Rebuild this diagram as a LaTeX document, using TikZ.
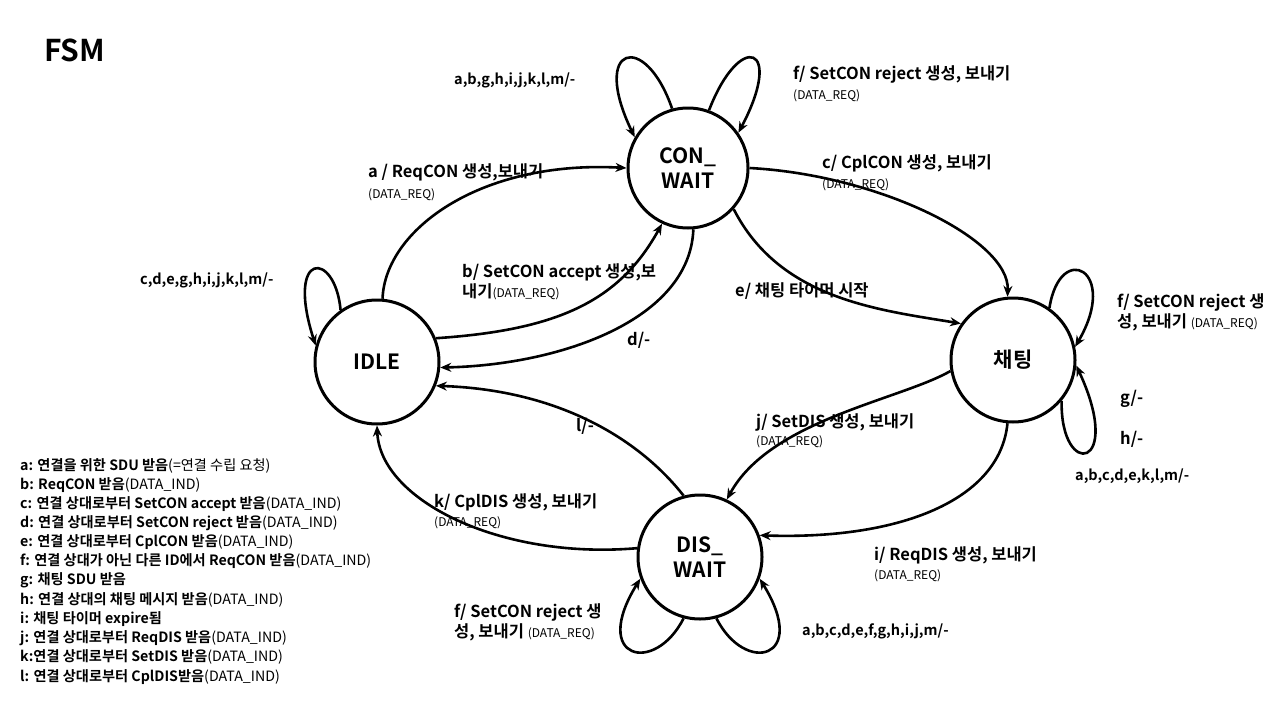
\documentclass[tikz,border=0pt]{standalone}
\usepackage{fontspec}
\setmainfont{Noto Sans CJK KR}[BoldFont={* Bold}]
\usetikzlibrary{arrows.meta}
\begin{document}
\begin{tikzpicture}[x=1pt,y=-1pt,
  st/.style={draw,line width=3pt,circle,minimum size=124pt,inner sep=0pt,font=\bfseries\fontsize{21}{25}\selectfont,align=center},
  ed/.style={line width=2.6pt,-{Stealth[length=11pt,width=9pt]}},
  lb/.style={font=\bfseries\fontsize{16.5}{20}\selectfont,align=left,inner sep=0pt},
  sm/.style={font=\fontsize{12}{14}\selectfont,inner sep=0pt},
  lp/.style={font=\bfseries\fontsize{14.5}{16}\selectfont,anchor=west,inner sep=0pt},
  lg/.style={font=\bfseries\fontsize{14.2}{16}\selectfont,anchor=west,inner sep=0pt}]
\useasboundingbox (0,0) rectangle (1280,720);
\node[font=\bfseries\fontsize{30}{34}\selectfont,anchor=west,inner sep=0pt] (t) at (44,50) {FSM};
\node[st] (idle) at (377,362) {IDLE};
\node[st,minimum size=120pt] (cw) at (688,168) {CON\_\\WAIT};
\node[st] (ch) at (1013,360) {채팅};
\node[st] (dw) at (700,557) {DIS\_\\WAIT};
% transitions
\draw[ed] (idle.85) .. controls (385,230) and (480,160) .. (cw.west);
\draw[ed] (idle.22) .. controls (560,330) and (620,300) .. (cw.245);
\draw[ed] (cw.275) .. controls (690,320) and (560,365) .. (idle.-5);
\draw[ed] (cw.east) .. controls (880,175) and (1010,240) .. (ch.95);
\draw[ed] (cw.318) .. controls (780,300) and (880,310) .. (ch.145);
\draw[ed] (ch.190) .. controls (900,400) and (770,420) .. (dw.65);
\draw[ed] (ch.265) .. controls (1000,500) and (900,540) .. (dw.20);
\draw[ed] (dw.105) .. controls (640,440) and (560,390) .. (idle.-22);
\draw[ed] (dw.172) .. controls (500,560) and (380,500) .. (idle.270);
% self loops
\draw[ed] (idle.125) .. controls (335,250) and (285,250) .. (idle.165);
\draw[ed] (cw.105) .. controls (645,30) and (590,45) .. (cw.150);
\draw[ed] (cw.70) .. controls (740,30) and (785,45) .. (cw.35);
\draw[ed] (ch.55) .. controls (1060,240) and (1120,270) .. (ch.12);
\draw[ed] (ch.-40) .. controls (1060,480) and (1125,470) .. (ch.-5);
\draw[ed] (dw.255) .. controls (655,675) and (590,660) .. (dw.200);
\draw[ed] (dw.-75) .. controls (745,675) and (810,660) .. (dw.-20);
% labels
\node[lb,anchor=west] (la) at (368,172) {a / ReqCON 생성,보내기};
\node[sm,anchor=west] (las) at (368,195) {(DATA\_REQ)};
\node[lb,anchor=west] (lb1) at (462,282) {b/ SetCON accept 생성,보\\내기{\mdseries\fontsize{12}{14}\selectfont(DATA\_REQ)}};
\node[lb,anchor=west] (ld) at (627,340) {d/-};
\node[lb,anchor=west] (lc) at (822,163) {c/ CplCON 생성, 보내기};
\node[sm,anchor=west] (lcs) at (822,185) {(DATA\_REQ)};
\node[lb,anchor=west] (le) at (735,291) {e/ 채팅 타이머 시작};
\node[lb,anchor=west] (lj) at (756,422) {j/ SetDIS 생성, 보내기};
\node[sm,anchor=west] (ljs) at (756,442) {(DATA\_REQ)};
\node[lb,anchor=west] (li) at (874,555) {i/ ReqDIS 생성, 보내기};
\node[sm,anchor=west] (lis) at (874,576) {(DATA\_REQ)};
\node[lb,anchor=west] (ll) at (576,426) {l/-};
\node[lb,anchor=west] (lk) at (434,502) {k/ CplDIS 생성, 보내기};
\node[sm,anchor=west] (lks) at (434,523) {(DATA\_REQ)};
\node[lp] (l1) at (454,80) {a,b,g,h,i,j,k,l,m/-};
\node[lb,anchor=west] (lf1) at (793,74) {f/ SetCON reject 생성, 보내기};
\node[sm,anchor=west] (lf1s) at (793,96) {(DATA\_REQ)};
\node[lp] (l2) at (140,280) {c,d,e,g,h,i,j,k,l,m/-};
\node[lb,anchor=west] (lf2) at (1117,312) {f/ SetCON reject 생\\성, 보내기 {\mdseries\fontsize{12}{14}\selectfont(DATA\_REQ)}};
\node[lb,anchor=west] (lg) at (1120,399) {g/-};
\node[lb,anchor=west] (lh) at (1120,439) {h/-};
\node[lp] (l3) at (1075,476) {a,b,c,d,e,k,l,m/-};
\node[lb,anchor=west] (lf3) at (454,622) {f/ SetCON reject 생\\성, 보내기 {\mdseries\fontsize{12}{14}\selectfont(DATA\_REQ)}};
\node[lp] (l4) at (802,631) {a,b,c,d,e,f,g,h,i,j,m/-};
% legend
\node[lg] (g1) at (20,466) {a: 연결을 위한 SDU 받음{\mdseries(=연결 수립 요청)}};
\node[lg] (g2) at (20,485) {b: ReqCON 받음{\mdseries(DATA\_IND)}};
\node[lg] (g3) at (20,504) {c: 연결 상대로부터 SetCON accept 받음{\mdseries(DATA\_IND)}};
\node[lg] (g4) at (20,523) {d: 연결 상대로부터 SetCON reject 받음{\mdseries(DATA\_IND)}};
\node[lg] (g5) at (20,542) {e: 연결 상대로부터 CplCON 받음{\mdseries(DATA\_IND)}};
\node[lg] (g6) at (20,561) {f: 연결 상대가 아닌 다른 ID에서 ReqCON 받음{\mdseries(DATA\_IND)}};
\node[lg] (g7) at (20,580) {g: 채팅 SDU 받음};
\node[lg] (g8) at (20,600) {h: 연결 상대의 채팅 메시지 받음{\mdseries(DATA\_IND)}};
\node[lg] (g9) at (20,619) {i: 채팅 타이머 expire됨};
\node[lg] (g10) at (20,638) {j: 연결 상대로부터 ReqDIS 받음{\mdseries(DATA\_IND)}};
\node[lg] (g11) at (20,657) {k:연결 상대로부터 SetDIS 받음{\mdseries(DATA\_IND)}};
\node[lg] (g12) at (20,677) {l: 연결 상대로부터 CplDIS받음{\mdseries(DATA\_IND)}};
\end{tikzpicture}
\end{document}
